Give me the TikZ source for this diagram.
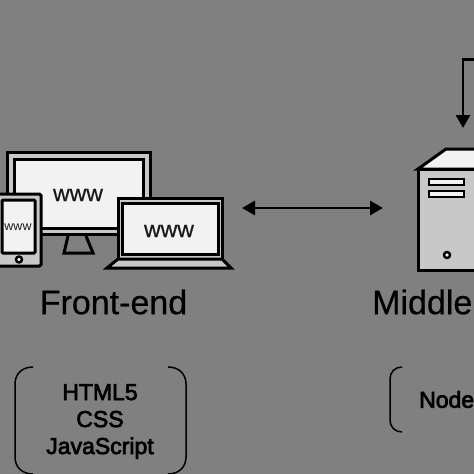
\documentclass[tikz,border=0pt]{standalone}
\usepackage{fontspec}
\setmainfont{Liberation Sans}
\newfontfamily\heavyfont[FakeBold=3]{Liberation Sans}
\newfontfamily\mediumfont[FakeBold=0.6]{Liberation Sans}
\usetikzlibrary{arrows.meta}
\definecolor{pageGray}{HTML}{808080}
\definecolor{bodyGray}{HTML}{C8C8C8}
\definecolor{screenGray}{HTML}{F2F2F2}
\tikzset{
  outline/.style={draw=black,line width=3pt,line join=miter},
  www/.style={inner sep=0pt,text=black!90},
  title/.style={inner sep=0pt,font=\mediumfont\fontsize{34}{34}\selectfont},
  tech/.style={inner sep=0pt,align=center,font=\heavyfont\fontsize{23}{27}\selectfont},
  bracket/.style={draw=black,line width=1.5pt},
  link/.style={black,line width=2.8pt,-{Triangle[length=13pt,width=14pt]}},
  dlink/.style={black,line width=2.8pt,{Triangle[length=13pt,width=14pt]}-{Triangle[length=13pt,width=14pt]}}
}

\begin{document}
\begin{tikzpicture}[x=1pt,y=-1pt]
  \useasboundingbox[fill=pageGray] (0,0) rectangle (474,474);

  % monitor
  \draw[outline] (68,236) -- (64,253) -- (93,253) -- (86,236);
  \draw[outline,fill=bodyGray] (7,152) rectangle (150,234);
  \draw[outline,fill=screenGray] (14,159) rectangle (143,228);
  \node[www,font=\mediumfont\fontsize{23}{23}\selectfont] (monitorurl) at (78,195) {www};

  % tablet
  \draw[outline,fill=bodyGray,rounded corners=1.5pt] (-3,194) rectangle (41,266);
  \draw[outline,fill=screenGray,rounded corners=1pt] (2,200) rectangle (35,253);
  \draw[black,line width=2.4pt,fill=screenGray] (19,259.5) circle (3pt);
  \node[www,font=\fontsize{12.5}{12.5}\selectfont] (tableturl) at (18,227) {www};

  % laptop
  \draw[outline,fill=bodyGray] (118,198) rectangle (222,259);
  \draw[outline,fill=screenGray] (122,203) rectangle (218,254);
  \draw[outline,fill=bodyGray] (118,259) -- (107,268) -- (231,268) -- (222,259) -- cycle;
  \node[www,font=\mediumfont\fontsize{23}{23}\selectfont] (laptopurl) at (169,231) {www};

  % server
  \draw[outline,fill=screenGray] (418,169) -- (446,149) -- (490,149) -- (490,169) -- cycle;
  \draw[outline,fill=bodyGray] (418,169) rectangle (490,270);
  \foreach \y in {179,191} {
    \draw[black,line width=2.6pt,fill=screenGray] (429,\y) rectangle (464,\y+6);
  }
  \draw[black,line width=2.4pt,fill=screenGray] (447,255) circle (3pt);

  % connectors
  \coordinate (frontport) at (242,208);
  \coordinate (middleport) at (383,208);
  \coordinate (backport) at (480,59.5);
  \coordinate (servertop) at (463,128);
  \draw[dlink] (frontport) -- (middleport);
  \draw[link] (backport) -| (servertop);

  \node[title] (frontlabel) at (113.5,302) {Front-end};
  \node[title,anchor=west] (middlelabel) at (372,302) {Middle};

  % brackets
  \draw[bracket] (33,367) .. controls (22,367) and (15,374) .. (15,384) -- (15,457)
    .. controls (15,467) and (22,474) .. (33,474);
  \draw[bracket] (168,367) .. controls (179,367) and (186,374) .. (186,384) -- (186,457)
    .. controls (186,467) and (179,474) .. (168,474);
  \draw[bracket] (402,367) .. controls (395,367) and (390,372) .. (390,379) -- (390,420)
    .. controls (390,427) and (395,432) .. (402,432);
  \node[tech] (frontstack) at (100,421.5) {HTML5\\CSS\\JavaScript};
  \node[tech,anchor=west] (middlestack) at (419,399.5) {Node};
\end{tikzpicture}
\end{document}
